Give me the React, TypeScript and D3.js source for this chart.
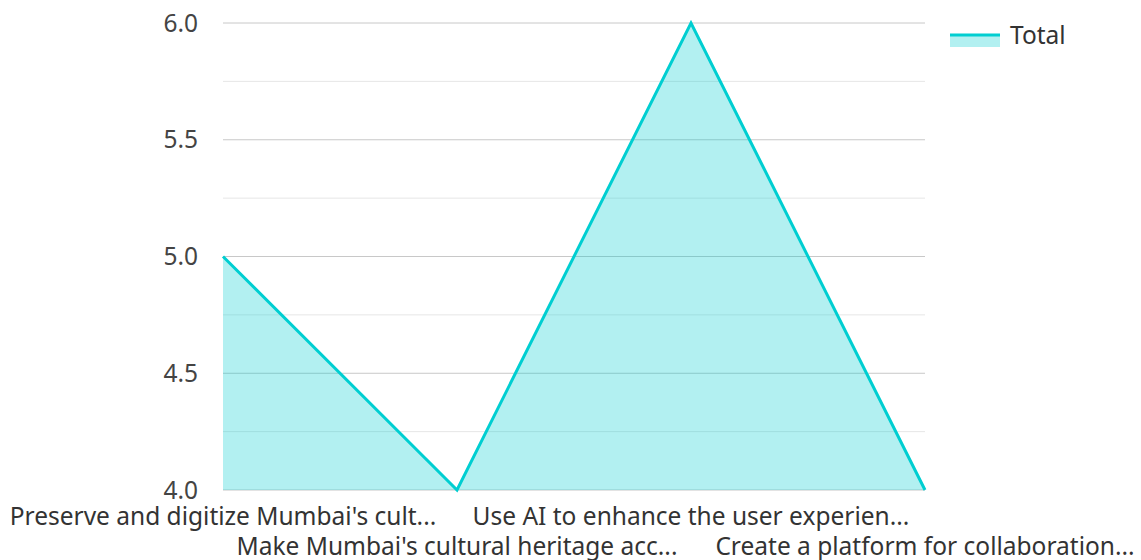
import React, { useRef, useEffect } from "react";
import * as d3 from "d3";

const categories = [
  "Preserve and digitize Mumbai's cult...",
  "Make Mumbai's cultural heritage acc...",
  "Use AI to enhance the user experien...",
  "Create a platform for collaboration...",
];
const totals = [5, 4, 6, 4];
const majorTicks = [4.0, 4.5, 5.0, 5.5, 6.0];
const minorTicks = [4.25, 4.75, 5.25, 5.75];

const LINE = "#00ced1";
const FONT = "'Noto Sans', sans-serif";

export default function App() {
  const ref = useRef<SVGSVGElement>(null);

  useEffect(() => {
    const width = 1141;
    const height = 560;
    const margin = { top: 23, right: 216, bottom: 70, left: 223 };

    const svg = d3.select(ref.current);
    svg.selectAll("*").remove();
    svg.attr("width", width).attr("height", height);

    const x = d3.scalePoint<string>()
      .domain(categories)
      .range([margin.left, width - margin.right]);
    const y = d3.scaleLinear()
      .domain([4, 6])
      .range([height - margin.bottom, margin.top]);

    const data = categories.map((c, i) => ({ c, v: totals[i] }));

    // grid
    svg.append("g")
      .selectAll("line.minor")
      .data(minorTicks)
      .join("line")
      .attr("x1", margin.left)
      .attr("x2", width - margin.right)
      .attr("y1", d => y(d))
      .attr("y2", d => y(d))
      .attr("stroke", "#e6e6e6")
      .attr("stroke-width", 1);

    svg.append("g")
      .selectAll("line.major")
      .data(majorTicks)
      .join("line")
      .attr("x1", margin.left)
      .attr("x2", width - margin.right)
      .attr("y1", d => y(d))
      .attr("y2", d => y(d))
      .attr("stroke", "#c8c8c8")
      .attr("stroke-width", 1);

    // area + line
    const area = d3.area<{ c: string; v: number }>()
      .x(d => x(d.c)!)
      .y0(y(4))
      .y1(d => y(d.v));
    const line = d3.line<{ c: string; v: number }>()
      .x(d => x(d.c)!)
      .y(d => y(d.v));

    svg.append("path")
      .datum(data)
      .attr("d", area)
      .attr("fill", LINE)
      .attr("fill-opacity", 0.3);

    svg.append("path")
      .datum(data)
      .attr("d", line)
      .attr("fill", "none")
      .attr("stroke", LINE)
      .attr("stroke-width", 3)
      .attr("stroke-linejoin", "miter");

    // y labels
    svg.append("g")
      .selectAll("text")
      .data(majorTicks)
      .join("text")
      .attr("x", margin.left - 25)
      .attr("y", d => y(d))
      .attr("dy", "0.35em")
      .attr("text-anchor", "end")
      .attr("font-family", FONT)
      .attr("font-size", 24.5)
      .attr("fill", "#444")
      .text(d => d.toFixed(1));

    // x labels, alternating rows
    svg.append("g")
      .selectAll("text")
      .data(categories)
      .join("text")
      .attr("x", d => x(d)!)
      .attr("y", (d, i) => (i % 2 === 0 ? 525 : 555))
      .attr("text-anchor", "middle")
      .attr("font-family", FONT)
      .attr("font-size", 24.5)
      .attr("fill", "#333")
      .text(d => d);

    // legend
    const lg = svg.append("g").attr("transform", "translate(950,35)");
    lg.append("rect")
      .attr("x", 0).attr("y", 0)
      .attr("width", 50).attr("height", 12)
      .attr("fill", LINE).attr("fill-opacity", 0.3);
    lg.append("line")
      .attr("x1", 0).attr("x2", 50)
      .attr("y1", 0).attr("y2", 0)
      .attr("stroke", LINE).attr("stroke-width", 3);
    lg.append("text")
      .attr("x", 60).attr("y", 9)
      .attr("font-family", FONT)
      .attr("font-size", 24.5)
      .attr("fill", "#333")
      .text("Total");
  }, []);

  return (
    <div style={{ position: "absolute", left: 0, top: 0 }}>
      <svg ref={ref}></svg>
    </div>
  );
}
